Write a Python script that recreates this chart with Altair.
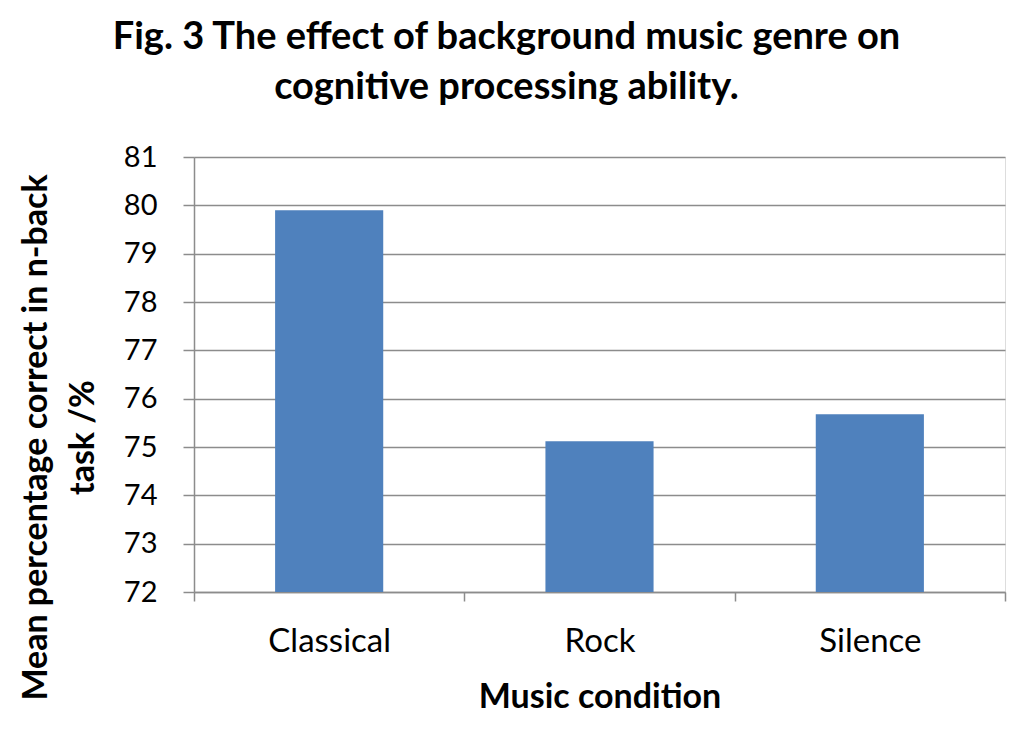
import altair as alt
import pandas as pd

conditions = ["Classical", "Rock", "Silence"]
means = [79.9, 75.12, 75.68]

df = pd.DataFrame({"condition": conditions, "mean": means})

FONT = "Lato"
GRID = "#8c8c8c"

chart = alt.Chart(df).mark_bar(
    color="#4F81BD", clip=True, width=alt.RelativeBandSize(0.4)
).encode(
    x=alt.X(
        "condition:N",
        sort=conditions,
        scale=alt.Scale(paddingInner=0, paddingOuter=0),
        axis=alt.Axis(
            title="Music condition",
            labelAngle=0,
            labelFont=FONT,
            labelFontSize=33,
            labelColor="#000000",
            labelPadding=24,
            tickBand="extent",
            tickSize=9,
            tickColor=GRID,
            tickWidth=1.5,
            domainColor=GRID,
            domainWidth=1.5,
            titleFont=FONT,
            titleFontSize=34,
            titleFontWeight="bold",
            titleColor="#000000",
            titlePadding=22,
            grid=False,
        ),
    ),
    y=alt.Y(
        "mean:Q",
        scale=alt.Scale(domain=[72, 81], zero=False, nice=False),
        axis=alt.Axis(
            values=list(range(72, 82)),
            title=["Mean percentage correct in n-back", "task /%"],
            labelFont=FONT,
            labelFontSize=29,
            labelColor="#000000",
            labelPadding=26,
            tickSize=11,
            tickColor=GRID,
            tickWidth=1.5,
            domainColor=GRID,
            domainWidth=1.5,
            gridColor=GRID,
            gridWidth=1.5,
            titleFont=FONT,
            titleFontSize=34,
            titleFontWeight="bold",
            titleColor="#000000",
            titleLineHeight=47,
            titleX=-158,
            titleY=280,
            titleBaseline="middle",
        ),
    ),
).properties(
    width=811,
    height=435,
    title=alt.TitleParams(
        text=["Fig. 3 The effect of background music genre on", "cognitive processing ability."],
        font=FONT,
        fontSize=38,
        fontWeight="bold",
        color="#000000",
        lineHeight=50,
        anchor="middle",
        dx=-93,
        offset=36,
    ),
    autosize="none",
    padding={"left": 186, "top": 149, "right": 10, "bottom": 130},
).configure_view(stroke=None).configure(background="white")

chart.save("out.html", embed_options={"renderer": "svg", "actions": False})
